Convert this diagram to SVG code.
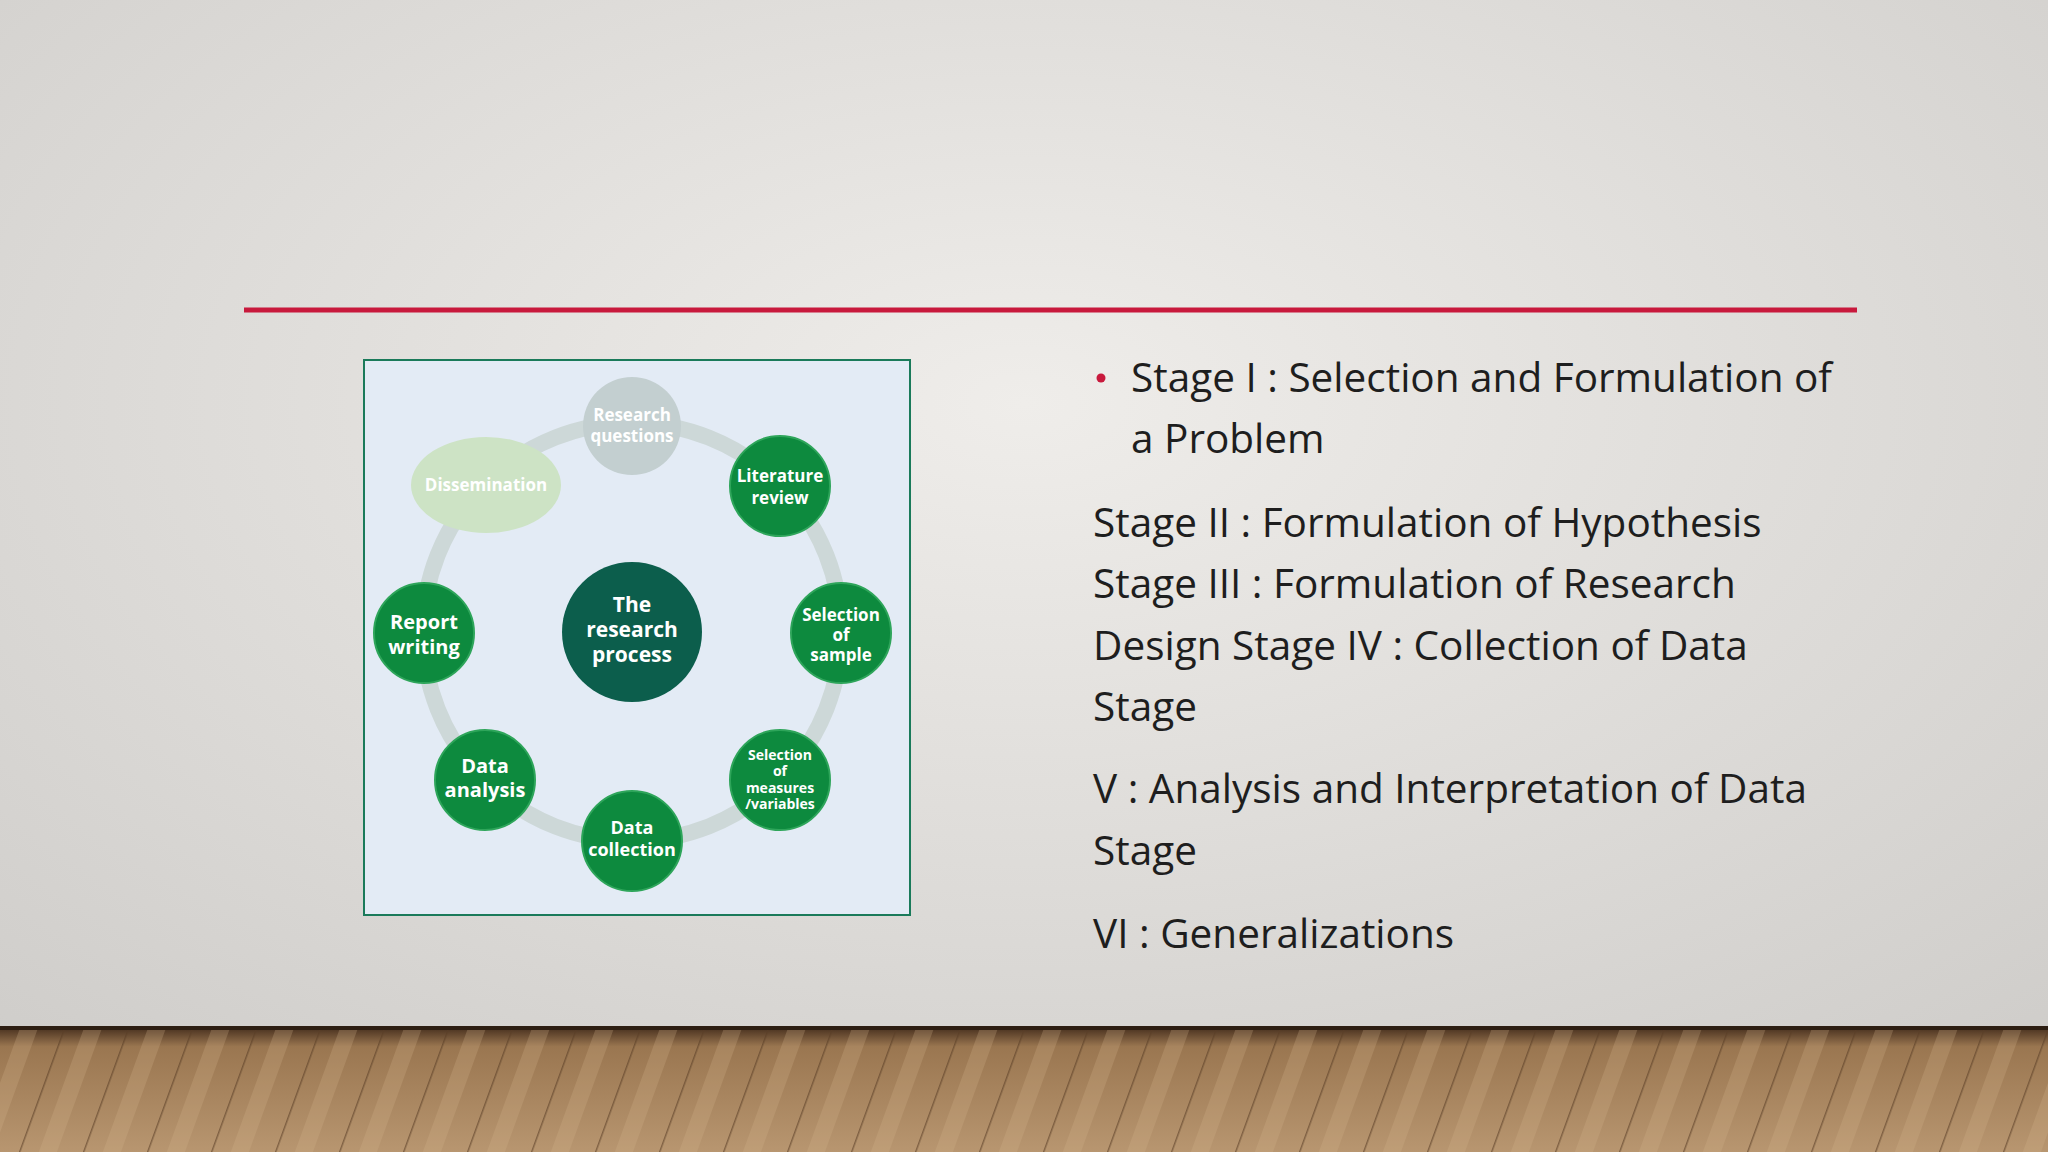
<svg xmlns="http://www.w3.org/2000/svg" width="2048" height="1152" viewBox="0 0 2048 1152">
<defs>
<radialGradient id="bg" cx="0.5" cy="0.35" r="0.75">
<stop offset="0" stop-color="#efedea"/><stop offset="1" stop-color="#cfcdca"/>
</radialGradient>
<linearGradient id="wood" x1="0" y1="0" x2="0" y2="1">
<stop offset="0" stop-color="#4a3220"/><stop offset="0.15" stop-color="#9a7650"/><stop offset="1" stop-color="#b89670"/>
</linearGradient>
<pattern id="planks" width="64" height="130" patternUnits="userSpaceOnUse" patternTransform="translate(0,1028) skewX(-20)">
<rect width="64" height="130" fill="none"/>
<line x1="0" y1="0" x2="0" y2="130" stroke="#5a3d25" stroke-width="3" opacity="0.6"/>
<rect x="20" width="18" height="130" fill="#d2b48c" opacity="0.25"/>
</pattern>
<style>
.n{fill:#0d8a3e;stroke:#2ea55a;stroke-width:2}
.t{font-family:"Open Sans","Liberation Sans",sans-serif;font-weight:bold;fill:#fff;text-anchor:middle}
.s{font-family:"Open Sans","Liberation Sans",sans-serif;font-size:40.5px;fill:#1e1e1e}
</style>
</defs>
<rect width="2048" height="1152" fill="url(#bg)"/>
<rect y="1028" width="2048" height="124" fill="url(#wood)"/>
<rect y="1028" width="2048" height="124" fill="url(#planks)"/>
<rect y="1026" width="2048" height="4" fill="#2d1e12"/>
<line x1="244" y1="310" x2="1857" y2="310" stroke="#c8193c" stroke-width="5"/>
<rect x="364" y="360" width="546" height="555" fill="#e3ebf5" stroke="#1a7a5a" stroke-width="2"/>
<g id="connectors"><circle cx="632" cy="632" r="209" fill="none" stroke="#cdd8d8" stroke-width="16"/></g>
<g id="center"><circle cx="632" cy="632" r="70" fill="#0c5e4c"/><text class="t" font-size="21"><tspan x="632" y="612">The</tspan><tspan x="632" y="637">research</tspan><tspan x="632" y="662">process</tspan></text></g>
<g id="rq"><circle cx="632" cy="426" r="49" fill="#c3cfd0"/><text class="t" font-size="17" fill="#f0f4f4"><tspan x="632" y="421">Research</tspan><tspan x="632" y="442">questions</tspan></text></g>
<g id="lit"><circle class="n" cx="780" cy="486" r="50"/><text class="t" font-size="17"><tspan x="780" y="482">Literature</tspan><tspan x="780" y="504">review</tspan></text></g>
<g id="sample"><circle class="n" cx="841" cy="633" r="50"/><text class="t" font-size="17"><tspan x="841" y="621">Selection</tspan><tspan x="841" y="641">of</tspan><tspan x="841" y="661">sample</tspan></text></g>
<g id="measures"><circle class="n" cx="780" cy="780" r="50"/><text class="t" font-size="14"><tspan x="780" y="760">Selection</tspan><tspan x="780" y="776">of</tspan><tspan x="780" y="793">measures</tspan><tspan x="780" y="809">/variables</tspan></text></g>
<g id="collection"><circle class="n" cx="632" cy="841" r="50"/><text class="t" font-size="18"><tspan x="632" y="834">Data</tspan><tspan x="632" y="856">collection</tspan></text></g>
<g id="analysis"><circle class="n" cx="485" cy="780" r="50"/><text class="t" font-size="20"><tspan x="485" y="773">Data</tspan><tspan x="485" y="797">analysis</tspan></text></g>
<g id="report"><circle class="n" cx="424" cy="633" r="50"/><text class="t" font-size="20"><tspan x="424" y="629">Report</tspan><tspan x="424" y="654">writing</tspan></text></g>
<g id="dissem"><ellipse cx="486" cy="485" rx="75" ry="48" fill="#cde3c5"/><text class="t" x="486" y="491" font-size="17" fill="#eef5ea">Dissemination</text></g>
<g id="text">
<circle cx="1101" cy="378" r="4.5" fill="#c8193c"/>
<text class="s" x="1131" y="392">Stage I : Selection and Formulation of</text>
<text class="s" x="1131" y="453">a Problem</text>
<text class="s" x="1093" y="537">Stage II : Formulation of Hypothesis</text>
<text class="s" x="1093" y="598">Stage III : Formulation of Research</text>
<text class="s" x="1093" y="660">Design Stage IV : Collection of Data</text>
<text class="s" x="1093" y="721">Stage</text>
<text class="s" x="1093" y="803">V : Analysis and Interpretation of Data</text>
<text class="s" x="1093" y="865">Stage</text>
<text class="s" x="1093" y="948">VI : Generalizations</text>
</g>
</svg>
